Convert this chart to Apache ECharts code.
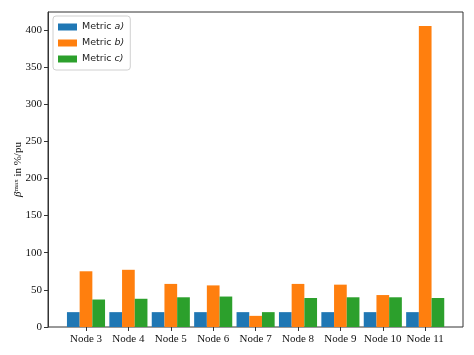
<!DOCTYPE html>
<html style="height: 100%">
<head>
  <meta charset="utf-8">
  <title>Metric per node</title>
  <script src="https://cdn.jsdelivr.net/npm/echarts@6/dist/echarts.min.js"></script>
</head>
<body style="height: 100%; margin: 0">
  <div id="main" style="width: 474px; height: 355px"></div>
  <script type="text/javascript">
    var nodes = ['Node 3', 'Node 4', 'Node 5', 'Node 6', 'Node 7', 'Node 8', 'Node 9', 'Node 10', 'Node 11'];
    var metricA = [20, 20, 20, 20, 20, 20, 20, 20, 20];
    var metricB = [75, 77, 58, 56, 15, 58, 57, 43, 405];
    var metricC = [37, 38, 40, 41, 20, 39, 40, 40, 39];
    var yMax = 424;

    var serif = '"Liberation Serif", "DejaVu Serif", serif';
    var sans = '"DejaVu Sans", sans-serif';

    var option = {
      animation: false,
      backgroundColor: '#fff',
      color: ['#1f77b4', '#ff7f0e', '#2ca02c'],
      legend: {
        orient: 'vertical',
        left: 53,
        top: 16,
        padding: [6, 6, 6, 5],
        itemWidth: 19,
        itemHeight: 7,
        itemGap: 6,
        borderColor: '#d0d0d0',
        borderWidth: 1,
        borderRadius: 3,
        icon: 'rect',
        textStyle: {
          fontFamily: sans,
          fontSize: 9.5,
          color: '#222',
          rich: {
            i: { fontFamily: sans, fontStyle: 'italic', fontSize: 9.5, color: '#222' }
          }
        },
        formatter: function (name) {
          var p = name.split(' ');
          return p[0] + ' {i|' + p[1] + '}';
        },
        data: ['Metric a)', 'Metric b)', 'Metric c)']
      },
      grid: [
        { left: 48, right: 11, top: 12, bottom: 28, show: true, borderColor: '#333', borderWidth: 1, outerBoundsMode: 'none' },
        { left: 64.8, width: 381.6, top: 12, bottom: 28, show: false, outerBoundsMode: 'none' }
      ],
      xAxis: [
        { type: 'value', gridIndex: 0, min: 0, max: 1, show: false },
        {
          type: 'category',
          gridIndex: 1,
          data: nodes,
          axisLine: { show: false },
          axisTick: { show: true, alignWithLabel: true, interval: 0, length: 4, lineStyle: { color: '#333' } },
          axisLabel: { fontFamily: serif, fontSize: 11, color: '#111', margin: 7, interval: 0 }
        }
      ],
      yAxis: [
        {
          type: 'value',
          gridIndex: 0,
          min: 0,
          max: yMax,
          interval: 50,
          splitLine: { show: false },
          axisLine: { show: true, lineStyle: { color: '#333' } },
          axisTick: { show: true, length: 4, lineStyle: { color: '#333' } },
          axisLabel: { fontFamily: serif, fontSize: 11, color: '#111', margin: 6, showMaxLabel: false },
          name: '{b|β}{s|max} in %/pu',
          nameLocation: 'middle',
          nameGap: 24,
          nameMoveOverlap: false,
          nameRotate: 90,
          nameTextStyle: {
            fontFamily: serif,
            fontSize: 11,
            color: '#111',
            rich: {
              b: { fontFamily: serif, fontStyle: 'italic', fontSize: 11, color: '#111' },
              s: { fontFamily: serif, fontSize: 7, color: '#111', verticalAlign: 'top', padding: [0, 0, 4, 0] }
            }
          }
        },
        { type: 'value', gridIndex: 1, min: 0, max: yMax, show: false }
      ],
      series: [
        { name: 'Metric a)', type: 'bar', xAxisIndex: 1, yAxisIndex: 1, barWidth: 12.7, barGap: '0%', data: metricA },
        { name: 'Metric b)', type: 'bar', xAxisIndex: 1, yAxisIndex: 1, barWidth: 12.7, barGap: '0%', data: metricB },
        { name: 'Metric c)', type: 'bar', xAxisIndex: 1, yAxisIndex: 1, barWidth: 12.7, barGap: '0%', data: metricC }
      ]
    };

    var chart = echarts.init(document.getElementById('main'));
    chart.setOption(option);
  </script>
</body>
</html>
